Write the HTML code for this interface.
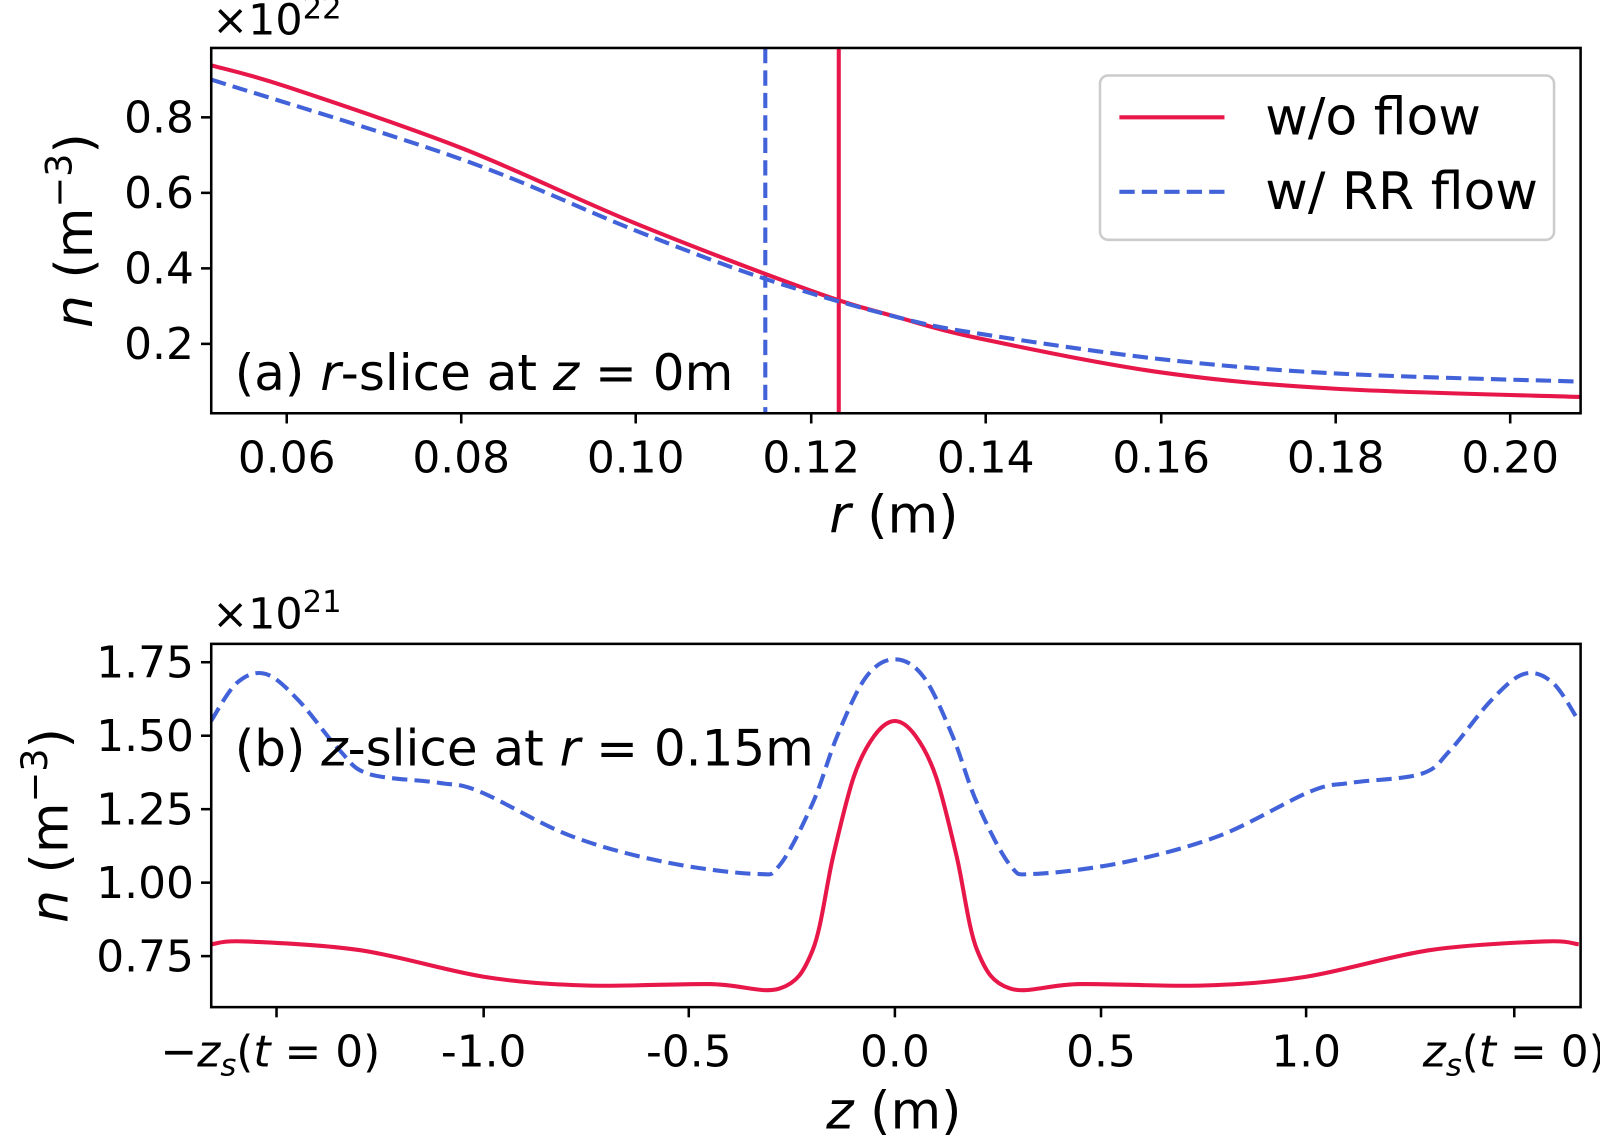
<!DOCTYPE html>
<html><head><meta charset="utf-8"><style>
body{margin:0;background:#fff}
svg{display:block}
text{font-family:"DejaVu Sans","Liberation Sans",sans-serif;fill:#000}
</style></head><body>
<svg id="s" width="1600" height="1138" viewBox="0 0 1600 1138" xmlns="http://www.w3.org/2000/svg">
<defs>
<clipPath id="c1"><rect x="207" y="47" width="1342" height="358"/></clipPath>
<clipPath id="c2"><rect x="207" y="631" width="1342" height="356"/></clipPath>
</defs>
<g transform="scale(1.0204)">
<g clip-path="url(#c1)">
<line x1="822" y1="47" x2="822" y2="405" stroke="#e8174a" stroke-width="4"/>
<line x1="750" y1="47" x2="750" y2="405" stroke="#4262d9" stroke-width="4" stroke-dasharray="15,7"/>
<path id="rt" fill="none" stroke="#e8174a" stroke-width="4"/>
<path id="bt" fill="none" stroke="#4262d9" stroke-width="4" stroke-dasharray="15,7"/>
</g>
<rect x="207" y="47" width="1342" height="358" fill="none" stroke="#000" stroke-width="2.5"/>
<g stroke="#000" stroke-width="2.5">
<line x1="281" y1="405" x2="281" y2="415"/><line x1="452" y1="405" x2="452" y2="415"/>
<line x1="623" y1="405" x2="623" y2="415"/><line x1="795" y1="405" x2="795" y2="415"/>
<line x1="966" y1="405" x2="966" y2="415"/><line x1="1138" y1="405" x2="1138" y2="415"/>
<line x1="1309" y1="405" x2="1309" y2="415"/><line x1="1480" y1="405" x2="1480" y2="415"/>
<line x1="197" y1="115" x2="207" y2="115"/><line x1="197" y1="189" x2="207" y2="189"/>
<line x1="197" y1="263" x2="207" y2="263"/><line x1="197" y1="337" x2="207" y2="337"/>
</g>
<g font-size="43" text-anchor="middle">
<text x="281" y="463">0.06</text><text x="452" y="463">0.08</text><text x="623" y="463">0.10</text>
<text x="795" y="463">0.12</text><text x="966" y="463">0.14</text><text x="1138" y="463">0.16</text>
<text x="1309" y="463">0.18</text><text x="1480" y="463">0.20</text>
</g>
<g font-size="43" text-anchor="end">
<text x="190" y="130">0.8</text><text x="190" y="204">0.6</text><text x="190" y="278">0.4</text><text x="190" y="352">0.2</text>
</g>
<text x="208" y="34" font-size="42">×10<tspan font-size="30" dy="-16">22</tspan></text>
<text x="876" y="522" font-size="51" text-anchor="middle"><tspan font-style="italic">r</tspan> (m)</text>
<text transform="translate(90,226) rotate(-90)" font-size="51" text-anchor="middle"><tspan font-style="italic">n</tspan> (m<tspan font-size="36" dy="-20">−3</tspan><tspan dy="20">)</tspan></text>
<text x="230" y="382" font-size="49">(a) <tspan font-style="italic">r</tspan>-slice at <tspan font-style="italic">z</tspan> = 0m</text>
<rect x="1078" y="74" width="445" height="161" rx="8" fill="#fff" stroke="#ccc" stroke-width="2.5"/>
<line x1="1097" y1="115" x2="1200" y2="115" stroke="#e8174a" stroke-width="4"/>
<line x1="1097" y1="188" x2="1200" y2="188" stroke="#4262d9" stroke-width="4" stroke-dasharray="15,7"/>
<text x="1240" y="132" font-size="51">w/o flow</text>
<text x="1240" y="205" font-size="51">w/ RR flow</text>

<g clip-path="url(#c2)">
<path id="rb" fill="none" stroke="#e8174a" stroke-width="4"/>
<path id="bb" fill="none" stroke="#4262d9" stroke-width="4" stroke-dasharray="15,7"/>
</g>
<rect x="207" y="631" width="1342" height="356" fill="none" stroke="#000" stroke-width="2.5"/>
<g stroke="#000" stroke-width="2.5">
<line x1="271" y1="987" x2="271" y2="997"/><line x1="474" y1="987" x2="474" y2="997"/>
<line x1="675" y1="987" x2="675" y2="997"/><line x1="877" y1="987" x2="877" y2="997"/>
<line x1="1079" y1="987" x2="1079" y2="997"/><line x1="1280" y1="987" x2="1280" y2="997"/>
<line x1="1484" y1="987" x2="1484" y2="997"/>
<line x1="197" y1="649" x2="207" y2="649"/><line x1="197" y1="721" x2="207" y2="721"/>
<line x1="197" y1="793" x2="207" y2="793"/><line x1="197" y1="865" x2="207" y2="865"/>
<line x1="197" y1="937" x2="207" y2="937"/>
</g>
<g font-size="43" text-anchor="middle">
<text x="265" y="1045">−<tspan font-style="italic">z<tspan font-size="30" dy="9">s</tspan></tspan><tspan dy="-9">(</tspan><tspan font-style="italic">t</tspan> = 0)</text>
<text x="474" y="1045">-1.0</text><text x="675" y="1045">-0.5</text><text x="877" y="1045">0.0</text>
<text x="1079" y="1045">0.5</text><text x="1280" y="1045">1.0</text>
<text x="1484" y="1045"><tspan font-style="italic">z<tspan font-size="30" dy="9">s</tspan></tspan><tspan dy="-9">(</tspan><tspan font-style="italic">t</tspan> = 0)</text>
</g>
<g font-size="43" text-anchor="end">
<text x="190" y="664">1.75</text><text x="190" y="736">1.50</text><text x="190" y="808">1.25</text>
<text x="190" y="880">1.00</text><text x="190" y="952">0.75</text>
</g>
<text x="208" y="616" font-size="42">×10<tspan font-size="30" dy="-16">21</tspan></text>
<text x="876" y="1106" font-size="51" text-anchor="middle"><tspan font-style="italic">z</tspan> (m)</text>
<text transform="translate(66,809) rotate(-90)" font-size="51" text-anchor="middle"><tspan font-style="italic">n</tspan> (m<tspan font-size="36" dy="-20">−3</tspan><tspan dy="20">)</tspan></text>
<text x="230" y="750" font-size="49">(b) <tspan font-style="italic">z</tspan>-slice at <tspan font-style="italic">r</tspan> = 0.15m</text>
</g>
</svg>
<script>
function cr(p){var d="M"+p[0][0]+","+p[0][1];for(var i=0;i<p.length-1;i++){var a=p[i-1]||p[i],b=p[i],c=p[i+1],e=p[i+2]||c;
d+=" C"+(b[0]+(c[0]-a[0])/6).toFixed(1)+","+(b[1]+(c[1]-a[1])/6).toFixed(1)+" "+(c[0]-(e[0]-b[0])/6).toFixed(1)+","+(c[1]-(e[1]-b[1])/6).toFixed(1)+" "+c[0]+","+c[1];}return d;}
document.getElementById("rt").setAttribute("d",cr([[207,64],[281,85],[452,145],[623,219],[795,285],[880,311],[966,333],[1138,365],[1309,381],[1549,389]]));
document.getElementById("bt").setAttribute("d",cr([[207,78],[452,156],[623,226],[752,274],[880,311],[966,328],[1138,352],[1309,366],[1549,374]]));
function sym(h){var l=h.map(function(q){return [+(877+403*q[0]).toFixed(1),+(937-288*(q[1]-0.75)).toFixed(1)]});var r=h.slice(0,-1).reverse().map(function(q){return [+(877-403*q[0]).toFixed(1),+(937-288*(q[1]-0.75)).toFixed(1)]});return l.concat(r);}
document.getElementById("rb").setAttribute("d",cr(sym([[-1.663,0.79],[-1.58,0.80],[-1.3,0.77],[-1.0,0.68],[-0.75,0.65],[-0.45,0.655],[-0.28,0.64],[-0.2,0.77],[-0.15,1.09],[-0.1,1.36],[-0.05,1.5],[0,1.55]])));
document.getElementById("bb").setAttribute("d",cr(sym([[-1.663,1.55],[-1.6,1.68],[-1.53,1.71],[-1.45,1.62],[-1.35,1.45],[-1.28,1.37],[-1.11,1.34],[-1.01,1.31],[-0.79,1.16],[-0.56,1.07],[-0.34,1.03],[-0.28,1.06],[-0.2,1.27],[-0.14,1.5],[-0.07,1.7],[0,1.76]])));
</script>
</body></html>
